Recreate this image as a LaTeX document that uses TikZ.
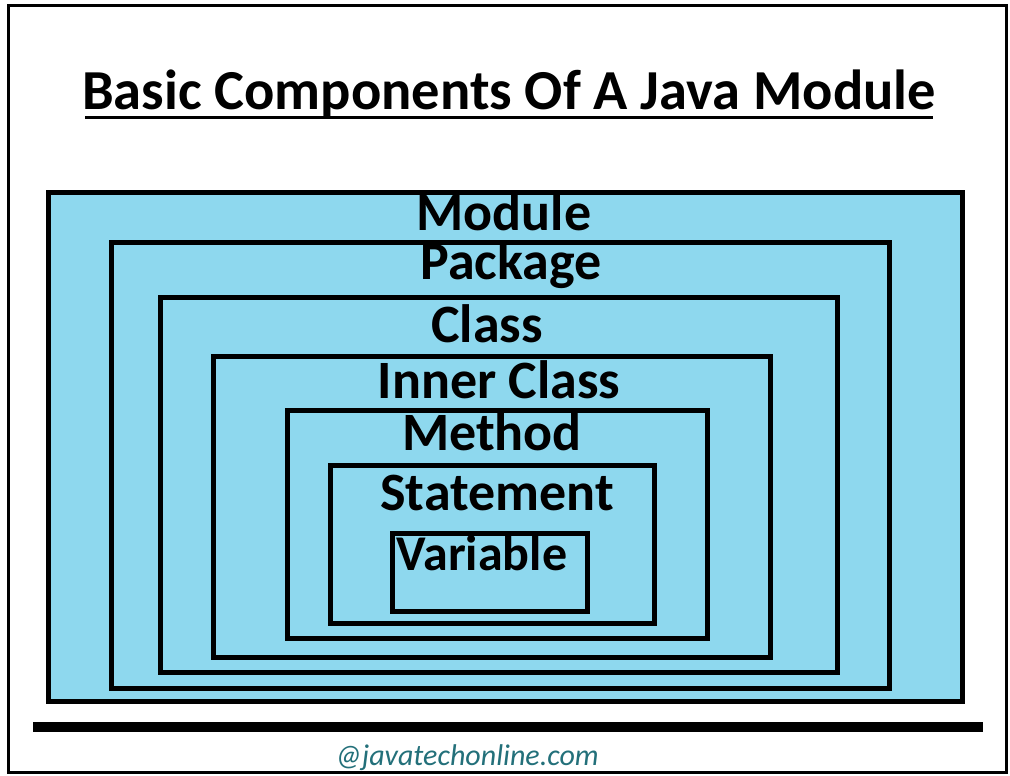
\documentclass[tikz,border=0pt]{standalone}
\usepackage{fontspec}
\setmainfont{Carlito}
\definecolor{boxblue}{HTML}{8ED8EE}
\definecolor{webteal}{HTML}{23707A}
\begin{document}
\begin{tikzpicture}[x=1pt,y=-1pt,
  layer/.style={draw=black,line width=5pt,fill=boxblue},
  lbl/.style={anchor=base,inner sep=0pt,font=\fontsize{54}{54}\selectfont\bfseries}]
\useasboundingbox (0,0) rectangle (1010,776);
\fill[white] (0,0) rectangle (1010,776);
\draw[line width=3pt] (8,6) rectangle (1006,772);
% title
\node[anchor=base,inner sep=0pt,font=\fontsize{56.5}{56.5}\selectfont\bfseries] (title) at (509,110) {Basic Components Of A Java Module};
\draw[line width=3pt] (85,117) -- (933,117);
% nested boxes
\draw[layer] (48,192) rectangle (962,701);
\draw[layer] (111,242) rectangle (889,688);
\draw[layer] (160,297) rectangle (837,672);
\draw[layer] (213,356) rectangle (770,657);
\draw[layer] (287,410) rectangle (707,638);
\draw[layer] (330,465) rectangle (654,623);
\draw[layer] (392,533) rectangle (587,611);
\node[lbl] (module) at (504,230) {Module};
\node[lbl] (package) at (511,279) {Package};
\node[lbl] (class) at (487,342) {Class};
\node[lbl] (inner) at (499,398) {Inner Class};
\node[lbl] (method) at (492,450) {Method};
\node[lbl] (statement) at (497,510) {Statement};
\node[lbl,font=\fontsize{50}{50}\selectfont\bfseries] (variable) at (482,570) {Variable};
% bottom bar
\fill[black] (33,722) rectangle (983,732);
\node[anchor=base,inner sep=0pt,text=webteal,font=\fontsize{30}{30}\selectfont\itshape] (web) at (467,765) {@javatechonline.com};
\end{tikzpicture}
\end{document}
